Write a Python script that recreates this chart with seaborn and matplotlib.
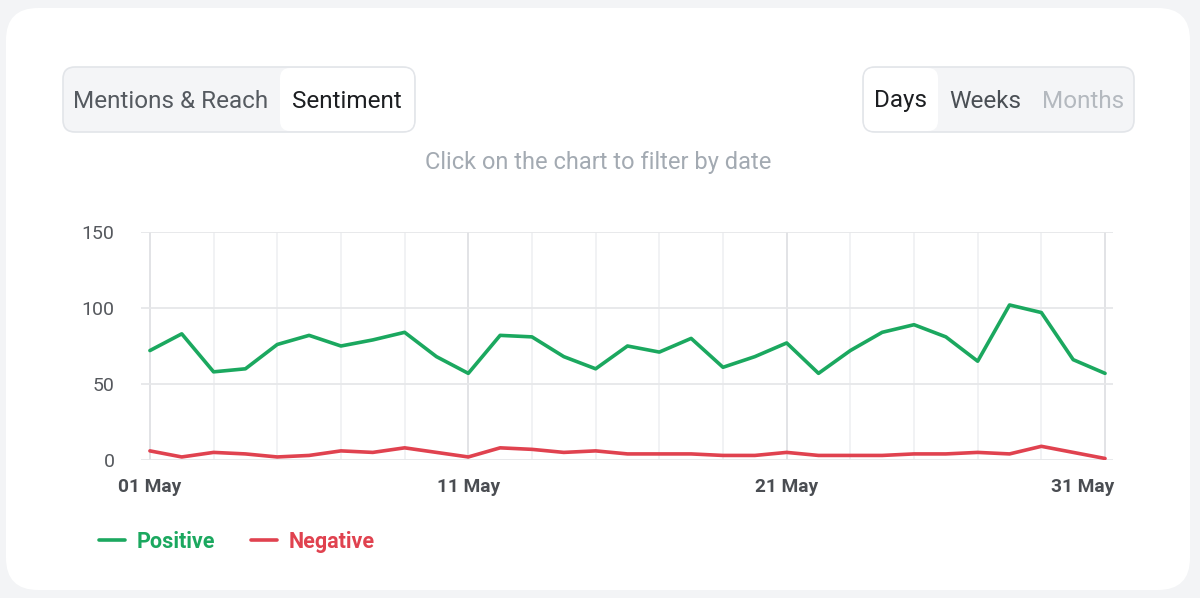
import pandas as pd
import matplotlib.pyplot as plt
import matplotlib.transforms as mtransforms
import seaborn as sns
from matplotlib.patches import FancyBboxPatch
from matplotlib.ticker import MultipleLocator, FixedLocator

# Daily sentiment counts, 01 May .. 31 May
days = list(range(1, 32))
positive = [72, 83, 58, 60, 76, 82, 75, 79, 84, 68, 57, 82, 81, 68, 60, 75,
            71, 80, 61, 68, 77, 57, 72, 84, 89, 81, 65, 102, 97, 66, 57]
negative = [6, 2, 5, 4, 2, 3, 6, 5, 8, 5, 2, 8, 7, 5, 6, 4,
            4, 4, 3, 3, 5, 3, 3, 3, 4, 4, 5, 4, 9, 5, 1]
tick_days = [1, 11, 21, 31]
tick_labels = ["01 May", "11 May", "21 May", "31 May"]
y_ticks = [0, 50, 100, 150]

GREEN = "#1ba85f"
RED = "#e0424f"

df = pd.DataFrame({
    "day": days * 2,
    "value": positive + negative,
    "series": ["Positive"] * len(days) + ["Negative"] * len(days),
})

sns.set_theme(style="white")
plt.rcParams["font.family"] = ["Roboto", "DejaVu Sans"]

fig = plt.figure(figsize=(12, 5.98), dpi=100)
fig.patch.set_facecolor("#f3f4f6")

W, H = 1200, 598


def px_box(x0, y0, x1, y1, face, edge="none", r=14, lw=1.2, z=0):
    # rounded box given in pixel coords (top-left origin)
    box = FancyBboxPatch((x0 / W, 1 - y1 / H), (x1 - x0) / W, (y1 - y0) / H,
                         boxstyle=f"round,pad=0,rounding_size={r / H}",
                         transform=fig.transFigure, facecolor=face,
                         edgecolor=edge, linewidth=lw, zorder=z,
                         mutation_aspect=W / H)
    fig.add_artist(box)


# white card
px_box(6, 8, 1190, 590, "white", r=16)

# tab buttons
px_box(63, 67, 415, 132, "#f4f5f7", "#e2e5e9", r=6)
px_box(280, 68, 414, 131, "white", r=5, z=1)
px_box(863, 67, 1134, 132, "#f4f5f7", "#e2e5e9", r=6)
px_box(864, 68, 938, 131, "white", r=5, z=1)

btn_y = 1 - 101 / H
fs_btn = 17.5
fig.text(171 / W, btn_y, "Mentions & Reach", ha="center", va="center",
         fontsize=fs_btn, color="#555a60", zorder=3)
fig.text(347 / W, btn_y, "Sentiment", ha="center", va="center",
         fontsize=fs_btn, color="#1c1e21", zorder=3)
fig.text(900 / W, btn_y, "Days", ha="center", va="center",
         fontsize=fs_btn, color="#1c1e21", zorder=3)
fig.text(985 / W, btn_y, "Weeks", ha="center", va="center",
         fontsize=fs_btn, color="#4a4f55", zorder=3)
fig.text(1083 / W, btn_y, "Months", ha="center", va="center",
         fontsize=fs_btn, color="#b4b9bf", zorder=3)

fig.text(598 / W, 1 - 162 / H, "Click on the chart to filter by date",
         ha="center", va="center", fontsize=17, color="#a3aab2")

# chart axes
ax = fig.add_axes([141 / W, (H - 460) / H, (1113 - 141) / W, (460 - 232) / H])
ax.set_facecolor("none")
sns.lineplot(data=df, x="day", y="value", hue="series",
             palette={"Positive": GREEN, "Negative": RED},
             linewidth=2.6, ax=ax, zorder=3)

ax.set_xlim(1 - 0.28, 31.25)
ax.set_ylim(0, 150)
ax.set_xlabel("")
ax.set_ylabel("")

ax.xaxis.set_major_locator(FixedLocator(tick_days))
ax.xaxis.set_minor_locator(MultipleLocator(2, offset=1))
ax.set_xticks(tick_days)
ax.set_xticklabels(tick_labels, fontsize=13.8, fontweight="bold", color="#4a4d52")
ax.set_yticks(y_ticks)
ax.set_yticklabels([str(v) for v in y_ticks], fontsize=14, color="#55585d")
ax.tick_params(axis="x", length=0, pad=13)
ax.tick_params(axis="y", length=0, pad=19)

# last date label is kept inside the plot area, like the original
last = ax.get_xticklabels()[-1]
last.set_horizontalalignment("right")
last.set_transform(last.get_transform() + mtransforms.ScaledTranslation(9 / 100, 0, fig.dpi_scale_trans))

ax.grid(axis="y", color="#e6e7e9", linewidth=1.3)
ax.grid(axis="x", which="major", color="#dfe1e4", linewidth=1.3)
ax.grid(axis="x", which="minor", color="#eeeff1", linewidth=1.1)
for s in ax.spines.values():
    s.set_visible(False)

leg = ax.legend(loc="center left", bbox_to_anchor=(80 / W, 1 - 542 / H),
                bbox_transform=fig.transFigure, ncol=2, frameon=False,
                handlelength=1.2, handletextpad=0.55, columnspacing=1.65,
                labelcolor="linecolor",
                prop={"size": 15.5, "weight": "bold", "family": ["Roboto", "DejaVu Sans"]})
for line in leg.get_lines():
    line.set_linewidth(2.6)

fig.savefig("out.png", dpi=100, facecolor=fig.get_facecolor())
